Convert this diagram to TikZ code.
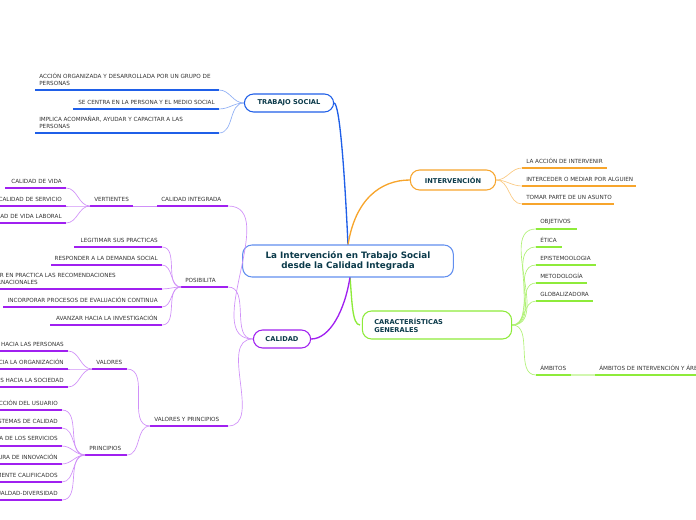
\documentclass[tikz,border=0pt]{standalone}
\usepackage{fontspec}
\newfontfamily\mapfont{DejaVu Sans}
\definecolor{cblue}{HTML}{1F5FE8}
\definecolor{corange}{HTML}{F7A52C}
\definecolor{cgreen}{HTML}{8EEB3A}
\definecolor{cpurple}{HTML}{A020F0}
\definecolor{ctext}{HTML}{0B3A4A}
\tikzset{
  box/.style={draw, rounded corners=7pt, line width=0.8pt, fill=white, inner sep=0pt,
    font=\mapfont\bfseries\fontsize{5}{6}\selectfont, text=ctext},
  lbl/.style={font=\mapfont\fontsize{4.25}{5.2}\selectfont, text=black!80, inner sep=0pt},
  leaf/.style={line width=1.2pt},
  conn/.style={line width=0.5pt},
}
% hoja a la izquierda: nombre, x1, x2, y, texto, color
\newcommand{\leafL}[6]{%
  \draw[leaf,#6] (#2,#4) coordinate (#1-l) -- (#3,#4) coordinate (#1-r);
  \node[lbl,anchor=south east,align=left] (#1t) at (#3-4,#4-4) {#5};
}
% hoja a la derecha
\newcommand{\leafR}[6]{%
  \draw[leaf,#6] (#2,#4) coordinate (#1-l) -- (#3,#4) coordinate (#1-r);
  \node[lbl,anchor=south west,align=left] (#1t) at (#2+4,#4-4) {#5};
}
\begin{document}
\begin{tikzpicture}[x=0.75pt,y=-0.75pt]
  \useasboundingbox (0,0) rectangle (696,520);
  \clip (0,0) rectangle (696,520);

  % ramas principales
  \coordinate (c-top) at (348,245);
  \coordinate (c-bot) at (350,277);
  \draw[conn,cblue,line width=1pt] (c-top) .. controls (345,180) and (340,103) .. (334,103);
  \draw[conn,corange,line width=1pt] (c-top) .. controls (355,200) and (380,180) .. (410,180);
  \draw[conn,cgreen,line width=1pt] (c-bot) .. controls (352,300) and (352,325) .. (360,325);
  \draw[conn,cpurple,line width=1pt] (c-bot) .. controls (345,310) and (330,339) .. (311,339);

  \node[box,draw=cblue!70,minimum width=158pt,minimum height=24pt,align=center,
    font=\mapfont\bfseries\fontsize{6.6}{8}\selectfont] (center) at (348,261)
    {La Intervención en Trabajo Social\\desde la Calidad Integrada};

  % TRABAJO SOCIAL
  \node[box,draw=cblue,minimum width=67pt,minimum height=13.5pt] (ts) at (289,103) {TRABAJO SOCIAL};
  \leafR{ts1}{35}{219}{90}{ACCIÓN ORGANIZADA Y DESARROLLADA POR UN GRUPO DE\\PERSONAS}{cblue}
  \leafL{ts2}{73}{219}{109}{SE CENTRA EN LA PERSONA Y EL MEDIO SOCIAL}{cblue}
  \leafR{ts3}{35}{219}{133}{IMPLICA ACOMPAÑAR, AYUDAR Y CAPACITAR A LAS\\PERSONAS}{cblue}
  \foreach \n in {ts1,ts2,ts3}
    \draw[conn,cblue!50] (ts.west) to[out=180,in=0] (\n-r);

  % INTERVENCION
  \node[box,draw=corange,minimum width=64pt,minimum height=15pt] (int) at (453,180) {INTERVENCIÓN};
  \leafR{in1}{522}{607}{168}{LA ACCIÓN DE INTERVENIR}{corange}
  \leafR{in2}{522}{636}{186}{INTERCEDER O MEDIAR POR ALGUIEN}{corange}
  \leafR{in3}{522}{614}{204}{TOMAR PARTE DE UN ASUNTO}{corange}
  \foreach \n in {in1,in2,in3}
    \draw[conn,corange!60] (int.east) to[out=0,in=180] (\n-l);

  % CARACTERISTICAS GENERALES
  \node[box,draw=cgreen,minimum width=112pt,minimum height=21pt,align=left,text width=94pt] (car) at (437,325)
    {CARACTERÍSTICAS\\GENERALES};
  \leafR{cg1}{536}{577}{229}{OBJETIVOS}{cgreen}
  \leafR{cg2}{536}{562}{247}{ÉTICA}{cgreen}
  \leafR{cg3}{536}{596}{265}{EPISTEMOOLOGIA}{cgreen}
  \leafR{cg4}{536}{587}{283}{METODOLOGÍA}{cgreen}
  \leafR{cg5}{536}{593}{301}{GLOBALIZADORA}{cgreen}
  \leafR{cg6}{536}{571}{375}{ÁMBITOS}{cgreen}
  \leafR{cg7}{595}{760}{375}{ÁMBITOS DE INTERVENCIÓN Y ÁREAS}{cgreen}
  \foreach \n in {cg1,cg2,cg3,cg4,cg5,cg6}
    \draw[conn,cgreen!70] (car.east) to[out=0,in=180] (\n-l);
  \draw[conn,cgreen!40,line width=1pt] (cg6-r) -- (cg7-l);

  % CALIDAD
  \node[box,draw=cpurple,minimum width=43pt,minimum height=13.5pt] (cal) at (282,339) {CALIDAD};
  \leafR{ci}{157}{228}{206}{CALIDAD INTEGRADA}{cpurple}
  \leafR{po}{181}{228}{287}{POSIBILITA}{cpurple}
  \leafR{vp}{150}{228}{426}{VALORES Y PRINCIPIOS}{cpurple}
  \foreach \n in {ci,po,vp}
    \draw[conn,cpurple!50] (cal.west) to[out=180,in=0] (\n-r);

  \leafR{ve}{90}{133}{206}{VERTIENTES}{cpurple}
  \draw[conn,cpurple!50] (ci-l) -- (ve-r);
  \leafL{ve1}{5}{66}{188}{CALIDAD DE VIDA}{cpurple}
  \leafL{ve2}{-20}{66}{206}{CALIDAD DE SERVICIO}{cpurple}
  \leafL{ve3}{-20}{66}{223}{CALIDAD DE VIDA LABORAL}{cpurple}
  \foreach \n in {ve1,ve2,ve3}
    \draw[conn,cpurple!50] (ve-l) to[out=180,in=0] (\n-r);

  \leafL{po1}{74}{162}{247}{LEGITIMAR SUS PRACTICAS}{cpurple}
  \leafL{po2}{51}{162}{265}{RESPONDER A LA DEMANDA SOCIAL}{cpurple}
  \leafR{po3}{-20}{162}{289}{PONER EN PRACTICA LAS RECOMENDACIONES\\INTERNACIONALES}{cpurple}
  \leafL{po4}{3}{162}{307}{INCORPORAR PROCESOS DE EVALUACIÓN CONTINUA}{cpurple}
  \leafL{po5}{50}{162}{325}{AVANZAR HACIA LA INVESTIGACIÓN}{cpurple}
  \foreach \n in {po1,po2,po3,po4,po5}
    \draw[conn,cpurple!50] (po-l) to[out=180,in=0] (\n-r);

  \leafR{va}{92}{127}{369}{VALORES}{cpurple}
  \leafR{pr}{85}{127}{455}{PRINCIPIOS}{cpurple}
  \foreach \n in {va,pr}
    \draw[conn,cpurple!50] (vp-l) to[out=180,in=0] (\n-r);

  \leafL{va1}{-20}{68}{351}{RESPONSABILIDADES HACIA LAS PERSONAS}{cpurple}
  \leafL{va2}{-20}{68}{369}{RESPONSABILIDADES HACIA LA ORGANIZACIÓN}{cpurple}
  \leafL{va3}{-20}{68}{387}{RESPONSABILIDADES HACIA LA SOCIEDAD}{cpurple}
  \foreach \n in {va1,va2,va3}
    \draw[conn,cpurple!50] (va-l) to[out=180,in=0] (\n-r);

  \leafL{pr1}{-20}{62}{410}{SATISFACCIÓN DEL USUARIO}{cpurple}
  \leafL{pr2}{-20}{62}{428}{SISTEMAS DE CALIDAD}{cpurple}
  \leafL{pr3}{-20}{62}{446}{MEJORA DE LOS SERVICIOS}{cpurple}
  \leafL{pr4}{-20}{62}{464}{CULTURA DE INNOVACIÓN}{cpurple}
  \leafL{pr5}{-20}{62}{482}{PERSONAL DEBIDAMENTE CALIFIICADOS}{cpurple}
  \leafL{pr6}{-20}{62}{500}{IGUALDAD-DIVERSIDAD}{cpurple}
  \foreach \n in {pr1,pr2,pr3,pr4,pr5,pr6}
    \draw[conn,cpurple!50] (pr-l) to[out=180,in=0] (\n-r);
\end{tikzpicture}
\end{document}
